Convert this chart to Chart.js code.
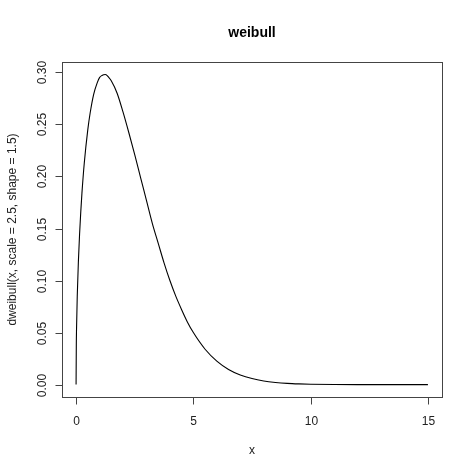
<!DOCTYPE html>
<html lang="en">
<head>
    <meta charset="UTF-8">
    <title>weibull</title>
    <script src="https://cdn.jsdelivr.net/npm/chart.js"></script>
    <style>
        body {
            margin: 0;
            padding: 0;
            background-color: #fff;
        }
        canvas {
            display: block;
        }
    </style>
</head>
<body>
    <canvas id="weibullCanvas" width="474" height="474"></canvas>

    <script>
        // Density values
        const xValues = [0, 0.01, 0.02, 0.05, 0.1, 0.15, 0.2, 0.25, 0.35, 0.5, 0.6, 0.75, 0.9, 1, 1.1, 1.25,
            1.4, 1.5, 1.75, 2, 2.25, 2.5, 2.75, 3, 3.25, 3.5, 3.75, 4, 4.25, 4.5, 4.75, 5, 5.5, 6, 6.5,
            7, 7.5, 8, 8.5, 9, 9.5, 10, 11, 12, 13, 14, 15];
        const densityValues = [0, 0.038, 0.054, 0.085, 0.119, 0.145, 0.166, 0.184, 0.213, 0.245, 0.261, 0.279,
            0.290, 0.295, 0.297, 0.298, 0.295, 0.292, 0.280, 0.262, 0.242, 0.221, 0.199, 0.177, 0.155,
            0.136, 0.117, 0.100, 0.085, 0.072, 0.060, 0.050, 0.034, 0.0226, 0.0146, 0.0093, 0.0058,
            0.0035, 0.0021, 0.0012, 0.0007, 0.0004, 0.0001, 0, 0, 0, 0];

        const xTicks = [0, 5, 10, 15];
        const yTicks = [0, 0.05, 0.10, 0.15, 0.20, 0.25, 0.30];
        const yTickLabels = ['0.00', '0.05', '0.10', '0.15', '0.20', '0.25', '0.30'];

        const titleText = 'weibull';
        const xLabel = 'x';
        const yLabel = 'dweibull(x, scale = 2.5, shape = 1.5)';

        const points = xValues.map((x, i) => ({ x: x, y: densityValues[i] }));

        // R-style frame, ticks and labels drawn from the chart scales
        const rAxes = {
            id: 'rAxes',
            afterDraw(chart) {
                const ctx = chart.ctx;
                const area = chart.chartArea;
                const xs = chart.scales.x;
                const ys = chart.scales.y;
                ctx.save();
                ctx.strokeStyle = '#444';
                ctx.lineWidth = 1;
                ctx.strokeRect(Math.round(area.left) + 0.5, Math.round(area.top) + 0.5,
                    Math.round(area.right - area.left), Math.round(area.bottom - area.top));

                ctx.fillStyle = '#222';
                ctx.font = '12px "Liberation Sans", Arial, sans-serif';

                // x axis
                const bx = Math.round(area.bottom) + 0.5;
                ctx.beginPath();
                ctx.moveTo(xs.getPixelForValue(xTicks[0]), bx);
                ctx.lineTo(xs.getPixelForValue(xTicks[xTicks.length - 1]), bx);
                ctx.stroke();
                ctx.textAlign = 'center';
                ctx.textBaseline = 'middle';
                xTicks.forEach(t => {
                    const px = Math.round(xs.getPixelForValue(t)) + 0.5;
                    ctx.beginPath();
                    ctx.moveTo(px, bx);
                    ctx.lineTo(px, bx + 7);
                    ctx.stroke();
                    ctx.fillText(String(t), px, bx + 24);
                });

                // y axis
                const lx = Math.round(area.left) + 0.5;
                yTicks.forEach((t, i) => {
                    const py = Math.round(ys.getPixelForValue(t)) + 0.5;
                    ctx.beginPath();
                    ctx.moveTo(lx, py);
                    ctx.lineTo(lx - 7, py);
                    ctx.stroke();
                    ctx.save();
                    ctx.translate(lx - 20, py);
                    ctx.rotate(-Math.PI / 2);
                    ctx.fillText(yTickLabels[i], 0, 0);
                    ctx.restore();
                });

                // axis titles
                const cx = (area.left + area.right) / 2;
                const cy = (area.top + area.bottom) / 2;
                ctx.fillText(xLabel, cx, 451);
                ctx.save();
                ctx.translate(13, cy);
                ctx.rotate(-Math.PI / 2);
                ctx.fillText(yLabel, 0, 0);
                ctx.restore();

                ctx.fillStyle = '#000';
                ctx.font = 'bold 14px "Liberation Sans", Arial, sans-serif';
                ctx.fillText(titleText, cx, 33);
                ctx.restore();
            }
        };

        const ctx = document.getElementById('weibullCanvas').getContext('2d');
        new Chart(ctx, {
            type: 'scatter',
            data: {
                datasets: [{
                    data: points,
                    showLine: true,
                    borderColor: '#000',
                    borderWidth: 1.1,
                    pointRadius: 0,
                    cubicInterpolationMode: 'monotone'
                }]
            },
            options: {
                responsive: false,
                animation: false,
                layout: {
                    padding: { left: 62, top: 62, right: 32, bottom: 77 }
                },
                scales: {
                    x: { type: 'linear', display: false, min: -0.6, max: 15.6 },
                    y: { type: 'linear', display: false, min: -0.0119, max: 0.31 }
                },
                plugins: {
                    legend: { display: false },
                    tooltip: { enabled: false }
                }
            },
            plugins: [rAxes]
        });
    </script>
</body>
</html>
